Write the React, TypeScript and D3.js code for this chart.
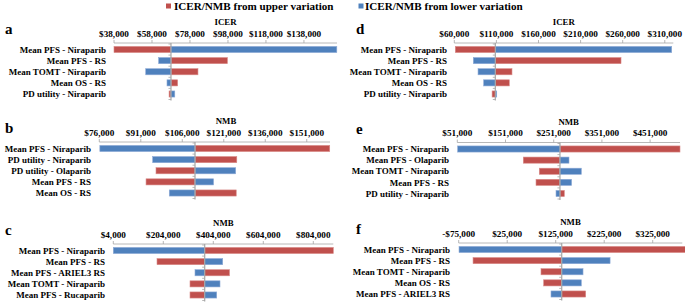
import React from "react";
import * as d3 from "d3";

const W = 685;
const H = 307;
const RED = "#C0504D";
const BLUE = "#4F81BD";

const legendLabels = ["ICER/NMB from upper variation", "ICER/NMB from lower variation"];

// Panel a (ICER)
const aCats = ["Mean PFS - Niraparib", "Mean PFS - RS", "Mean TOMT - Niraparib", "Mean OS - RS", "PD utility - Niraparib"];
const aUpper = [38000, 97700, 82200, 71500, 67000];
const aLower = [155300, 61500, 54700, 65900, 70000];
const aBase = 68000;
const aDomain = [38000, 155400];
const aStep = 20000;

// Panel b (NMB)
const bCats = ["Mean PFS - Niraparib", "PD utility - Niraparib", "PD utility - Olaparib", "Mean PFS - RS", "Mean OS - RS"];
const bUpper = [159300, 125700, 96500, 92900, 125500];
const bLower = [76200, 95300, 125300, 117300, 101300];
const bBase = 110600;
const bDomain = [76000, 159400];
const bStep = 15000;

// Panel c (NMB)
const cCats = ["Mean PFS - Niraparib", "Mean PFS - RS", "Mean PFS - ARIEL3 RS", "Mean TOMT - Niraparib", "Mean PFS - Rucaparib"];
const cUpper = [884000, 178800, 468800, 310800, 310800];
const cLower = [4000, 441600, 330800, 430800, 417600];
const cBase = 369600;
const cDomain = [4000, 884000];
const cStep = 200000;

// Panel d (ICER)
const dCats = ["Mean PFS - Niraparib", "Mean PFS - RS", "Mean TOMT - Niraparib", "Mean OS - RS", "PD utility - Niraparib"];
const dUpper = [61200, 258000, 128500, 125300, 104900];
const dLower = [318200, 82600, 88200, 94900, 110400];
const dBase = 108700;
const dDomain = [60000, 320100];
const dStep = 50000;

// Panel e (NMB)
const eCats = ["Mean PFS - Niraparib", "Mean PFS - Olaparib", "Mean TOMT - Niraparib", "Mean PFS - RS", "PD utility - Niraparib"];
const eUpper = [513000, 187900, 221100, 214300, 273000];
const eLower = [51800, 282700, 308300, 288100, 255800];
const eBase = 264000;
const eDomain = [51000, 513000];
const eStep = 100000;

// Panel f (NMB)
const fCats = ["Mean PFS - Niraparib", "Mean PFS - RS", "Mean TOMT - Niraparib", "Mean OS - RS", "Mean PFS - ARIEL3 RS"];
const fUpper = [427500, -45400, 94700, 100200, 186800];
const fLower = [-74300, 237100, 181300, 177800, 115300];
const fBase = 137400;
const fDomain = [-75000, 386000];
const fStep = 100000;

type Panel = {
  letter: string;
  title: string;
  cats: string[];
  upper: number[];
  lower: number[];
  base: number;
  domain: number[];
  step: number;
  x0: number;
  x1: number;
  axisY: number;
  labelRight: number;
  letterX: number;
  titleX?: number;
};

const panels: Panel[] = [
  { letter: "a", title: "ICER", cats: aCats, upper: aUpper, lower: aLower, base: aBase, domain: aDomain, step: aStep, x0: 114, x1: 337, axisY: 43, labelRight: 106, letterX: 5 },
  { letter: "b", title: "NMB", cats: bCats, upper: bUpper, lower: bLower, base: bBase, domain: bDomain, step: bStep, x0: 99.3, x1: 330, axisY: 142, labelRight: 91, letterX: 5, titleX: 226 },
  { letter: "c", title: "NMB", cats: cCats, upper: cUpper, lower: cLower, base: cBase, domain: cDomain, step: cStep, x0: 113.3, x1: 333.3, axisY: 244, labelRight: 105, letterX: 5 },
  { letter: "d", title: "ICER", cats: dCats, upper: dUpper, lower: dLower, base: dBase, domain: dDomain, step: dStep, x0: 454.3, x1: 673.3, axisY: 43, labelRight: 447, letterX: 356 },
  { letter: "e", title: "NMB", cats: eCats, upper: eUpper, lower: eLower, base: eBase, domain: eDomain, step: eStep, x0: 457.3, x1: 680, axisY: 142.5, labelRight: 449, letterX: 356 },
  { letter: "f", title: "NMB", cats: fCats, upper: fUpper, lower: fLower, base: fBase, domain: fDomain, step: fStep, x0: 458.7, x1: 682.3, axisY: 243, labelRight: 450, letterX: 356 },
];

const FONT = "'Liberation Serif', 'Times New Roman', serif";
const fmt = (v: number) => (v < 0 ? "-" : "") + "$" + d3.format(",")(Math.abs(v));

function PanelView({ p }: { p: Panel }) {
  const x = d3.scaleLinear().domain(p.domain).range([p.x0, p.x1]);
  const y = d3.scaleBand<string>().domain(p.cats).range([p.axisY + 1, p.axisY + 56.5]).paddingInner(0.45).paddingOuter(0.22);
  const ticks = d3.range(p.domain[0], p.domain[1] + 1, p.step);
  const bx = x(p.base);
  const bh = y.bandwidth();
  const boundaries = d3.range(0, p.cats.length + 1).map((i) => p.axisY + 1 + i * ((55.5) / p.cats.length));
  const titleX = p.titleX ?? (p.x0 + p.x1) / 2;
  return (
    <g>
      <text x={p.letterX} y={p.axisY - 9} fontSize={15} fontWeight="bold" fontFamily={FONT}>{p.letter}</text>
      <text x={titleX} y={p.axisY - 18} fontSize={8.8} fontWeight="bold" fontFamily={FONT} textAnchor="middle">{p.title}</text>
      {ticks.map((t) => (
        <g key={t}>
          <text x={x(t)} y={p.axisY - 6.5} fontSize={9.2} fontWeight="bold" fontFamily={FONT} textAnchor="middle">{fmt(t)}</text>
          <line x1={x(t)} x2={x(t)} y1={p.axisY - 3} y2={p.axisY} stroke="#a6a6a6" strokeWidth={0.8} />
        </g>
      ))}
      <line x1={p.x0} x2={p.x1} y1={p.axisY} y2={p.axisY} stroke="#a6a6a6" strokeWidth={0.8} />
      {p.cats.map((c, i) => {
        const yy = y(c)!;
        const u = x(p.upper[i]);
        const l = x(p.lower[i]);
        return (
          <g key={c}>
            <rect x={Math.min(bx, u)} y={yy} width={Math.abs(u - bx)} height={bh} fill={RED} stroke="#d98b89" strokeWidth={0.6} />
            <rect x={Math.min(bx, l)} y={yy} width={Math.abs(l - bx)} height={bh} fill={BLUE} stroke="#8eaad6" strokeWidth={0.6} />
            <text x={p.labelRight} y={yy + bh / 2 + 3.2} fontSize={9} fontWeight="bold" fontFamily={FONT} textAnchor="end">{c}</text>
          </g>
        );
      })}
      <line x1={bx} x2={bx} y1={p.axisY} y2={p.axisY + 57.5} stroke="#a6a6a6" strokeWidth={1.2} />
      {boundaries.map((b, i) => (
        <line key={i} x1={bx - 2.5} x2={bx} y1={b} y2={b} stroke="#a6a6a6" strokeWidth={0.8} />
      ))}
    </g>
  );
}

export default function App() {
  return (
    <svg width={W} height={H} style={{ position: "absolute", left: 0, top: 0, background: "#fff" }}>
      <rect x={0} y={0} width={W} height={H} fill="#fff" />
      <rect x={166} y={3.5} width={5} height={5} fill={RED} />
      <text x={174} y={10} fontSize={11.1} fontWeight="bold" fontFamily={FONT}>{legendLabels[0]}</text>
      <rect x={358.5} y={3.5} width={5} height={5} fill={BLUE} />
      <text x={365} y={10} fontSize={11.1} fontWeight="bold" fontFamily={FONT}>{legendLabels[1]}</text>
      {panels.map((p) => (
        <PanelView key={p.letter} p={p} />
      ))}
    </svg>
  );
}
